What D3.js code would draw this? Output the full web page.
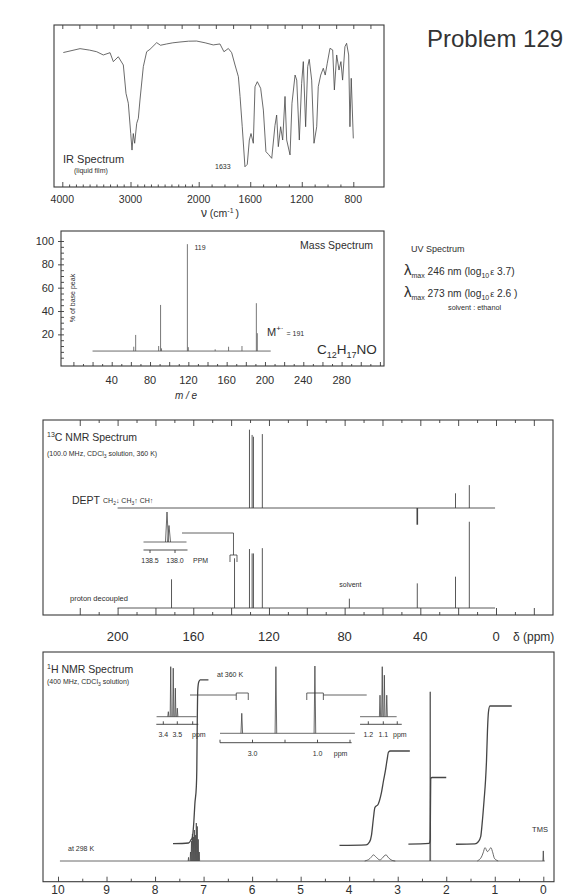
<!DOCTYPE html>
<html><head><meta charset="utf-8">
<script src="https://cdn.jsdelivr.net/npm/d3@7/dist/d3.min.js"></script>
<style>
html,body{margin:0;padding:0;background:#fff;}
svg{display:block;}
text{font-family:"Liberation Sans",Arial,Helvetica,sans-serif;fill:#2e2e2e;}
</style></head><body>
<svg id="chart" width="577" height="896"></svg>
<script>
// ================= DATA =================
// IR spectrum: [wavenumber cm-1, % transmittance]
const irTickLabels = [4000, 3000, 2000, 1600, 1200, 800];
const irTopTicks = [4000,3750,3500,3250,3000,2750,2500,2250,2000,1867,1733,1600,1467,1333,1200,1067,933,800,667];
const irTrace = [
 [3985,83],[3740,85.4],[3600,84.5],[3496,83.5],[3399,81.5],[3300,82.9],[3252,77.4],[3179,80.4],[3105,75.3],
 [3066,57.8],[3032,51.7],[2997,33.1],[2978,22.8],[2959,33],[2939,27],[2909,39.3],[2885,42.4],[2861,53.7],
 [2812,74.3],[2763,83.5],[2714,85],[2616,89.1],[2560,87.5],[2470,88.3],[2380,89],[2274,89.5],[2150,90],
 [2030,90.1],[1950,89],[1887,87.7],[1835,88.3],[1804,83.5],[1770,85.5],[1744,82.9],[1718,75.3],[1692,68.1],
 [1679,55.9],[1662,37.2],[1641,12.5],[1623,14],[1607,29],[1594,33],[1576,27],[1563,61.9],[1545,65],
 [1519,60.9],[1498,47.5],[1478,21.8],[1457,20],[1433,17.7],[1408,38],[1395,44.4],[1382,24.9],[1364,37.2],
 [1348,29],[1330,55.9],[1317,29],[1291,19.8],[1276,51.7],[1252,69.1],[1239,66],[1219,29],[1201,64],
 [1188,77.4],[1170,37.2],[1154,74.3],[1142,78.8],[1123,66],[1105,27],[1084,37.2],[1072,61.9],[1053,69.1],
 [1033,73.3],[1018,69.1],[1002,76.4],[981,85.6],[960,84.6],[947,59.9],[929,81.5],[911,72.2],[896,77.4],
 [883,66],[865,86.6],[852,88.7],[836,81.5],[826,37.2],[816,67.1],[800,30]
];

// Mass spectrum
const massTickLabels = [40, 80, 120, 160, 200, 240, 280];
const massYTickLabels = [20, 40, 60, 80, 100];
const massMz        = [63, 65, 89, 91, 92, 119, 120, 148, 162, 176, 191, 192];
const massIntensity = [9.4, 19.5, 10, 45.2, 8, 97.3, 9, 7.2, 9.4, 10, 46.7, 21];
const massBaselineRange = [20, 206];
const massBaselineLevel = 5.7;

// UV
const uvLambdaMax = [246, 273];
const uvLogEps = ["3.7", "2.6 "];

// 13C NMR
const c13TickLabels = [200, 160, 120, 80, 40, 0];
const c13Ppm    = [171.5, 138.2, 130.3, 128.9, 128.2, 123.5, 77.5, 41.6, 21.4, 14.1];
const c13Height = [32.6, 56.5, 67, 62, 62, 68, 10.6, 28, 35.6, 98];
const deptPpm    = [130.3, 128.9, 128.2, 123.5, 41.6, 21.4, 14.1];
const deptHeight = [89, 83, 81, 84, -19, 16.7, 26];
const c13InsetTickLabels = [138.5, 138.0];
const c13InsetPpm    = [138.16, 138.12];
const c13InsetHeight = [100, 55];
const c13Bracket = [140.6, 136.9];

// 1H NMR (298 K)
const h1TickLabels = [10, 9, 8, 7, 6, 5, 4, 3, 2, 1, 0];
const h1LinePpm    = [7.31, 7.27, 7.25, 7.23, 7.21, 7.19, 7.17, 7.15, 7.13, 7.11, 7.09, 2.33, 0.0];
const h1LineHeight = [2, 5, 11, 15, 13.4, 17.2, 14.4, 21.1, 19.2, 12, 5, 94, 5.6];
const h1BumpCH2 = [[3.68,0],[3.6,0.8],[3.55,2],[3.5,3.4],[3.44,2],[3.37,0.6],[3.32,1.5],[3.28,2.8],[3.24,3.4],[3.19,1.8],[3.12,0.4],[3.05,0]];
const h1BumpCH3 = [[1.36,0],[1.29,1.5],[1.24,4.5],[1.2,7.4],[1.15,5.2],[1.11,6.4],[1.08,7.4],[1.04,4.5],[1.0,1.2],[0.93,0]];
const h1IntAr  = [[7.63,9.6],[7.31,10],[7.26,11.7],[7.23,13.3],[7.2,22.2],[7.18,31.7],[7.15,41.1],[7.14,50.6],[7.13,78.3],[7.12,95],[7.1,99.4],[7.07,100.6],[6.9,100.6]];
const h1IntCH2 = [[4.2,8.7],[3.65,9],[3.58,10.6],[3.54,14.4],[3.5,23.9],[3.47,29.7],[3.4,31.7],[3.34,37.4],[3.29,45],[3.25,50.8],[3.22,56],[3.19,60.5],[3.15,61.1],[2.75,61.1]];
const h1IntMe  = [[2.78,9.4],[2.35,9.8],[2.33,12],[2.32,46],[2.29,46.4],[2.0,46.4]];
const h1IntEt  = [[1.8,9.3],[1.41,9.5],[1.34,10.7],[1.29,13.5],[1.26,20.9],[1.22,33.9],[1.19,45],[1.17,56],[1.15,72.8],[1.13,82.8],[1.1,86.1],[0.65,86.1]];
// insets (360 K expansions)
const ins1TickLabels = ["3.4", "3.5"];
const ins1Ppm = [3.436, 3.453, 3.471, 3.486, 3.5];
const ins1Height = [10, 100, 97, 57, 17];
const ins2TickLabels = ["3.0", "1.0"];
const ins2Ppm = [3.33, 2.28, 1.08];
const ins2Height = [30, 100, 101];
const ins2Brackets = [[3.5, 3.13], [1.33, 0.82]];
const ins3TickLabels = ["1.2", "1.1"];
const ins3Ppm = [1.122, 1.107, 1.093, 1.077];
const ins3Height = [43, 100, 83, 43];

// ================= DRAWING =================
const svg = d3.select("#chart");
const g = svg.append("g");
const FRAME = "#3a3a3a", TRACE = "#454545";

function ln(x1, y1, x2, y2, w, c) {
  return g.append("line").attr("x1", x1).attr("y1", y1).attr("x2", x2).attr("y2", y2)
    .attr("stroke", c || TRACE).attr("stroke-width", w || 0.8);
}
function txt(x, y, s, size, anchor) {
  return g.append("text").attr("x", x).attr("y", y).attr("font-size", size)
    .attr("text-anchor", anchor || "start").text(s);
}
function rich(x, y, parts, size, anchor) {
  const t = g.append("text").attr("x", x).attr("y", y).attr("font-size", size)
    .attr("text-anchor", anchor || "start");
  let shift = 0;
  parts.forEach(p => {
    const s = p[0], kind = p[1] || "", fs = p[2] || (kind ? size * 0.68 : size), dx = p[3] || 0;
    const target = kind === "sub" ? size * 0.32 : kind === "sup" ? -size * 0.42 : 0;
    t.append("tspan").attr("dy", target - shift).attr("dx", dx).attr("font-size", fs).text(s);
    shift = target;
  });
  return t;
}
function frame(x, y, w, h) {
  g.append("rect").attr("x", x).attr("y", y).attr("width", w).attr("height", h)
    .attr("fill", "none").attr("stroke", FRAME).attr("stroke-width", 1.1);
}
function ticks(axisFn, scale, values, size, ty) {
  const a = g.append("g").attr("transform", `translate(0,${ty})`)
    .call(axisFn(scale).tickValues(values).tickSize(size).tickFormat(""));
  a.select(".domain").remove();
  a.selectAll("line").attr("stroke", FRAME).attr("stroke-width", 0.9);
  return a;
}
function vticks(axisFn, scale, values, size, tx) {
  const a = g.append("g").attr("transform", `translate(${tx},0)`)
    .call(axisFn(scale).tickValues(values).tickSize(size).tickFormat(""));
  a.select(".domain").remove();
  a.selectAll("line").attr("stroke", FRAME).attr("stroke-width", 0.9);
  return a;
}
function spikes(ppm, h, xs, ys, hw) {
  const p = d3.path();
  ppm.forEach((v, i) => {
    p.moveTo(xs(v + hw), ys(0));
    p.lineTo(xs(v), ys(h[i]));
    p.lineTo(xs(v - hw), ys(0));
  });
  g.append("path").attr("d", p.toString()).attr("fill", "none")
    .attr("stroke", TRACE).attr("stroke-width", 0.8);
}
function curve(points, xs, ys, w, cv) {
  g.append("path").datum(points)
    .attr("d", d3.line().x(d => xs(d[0])).y(d => ys(d[1])).curve(cv || d3.curveLinear))
    .attr("fill", "none").attr("stroke", TRACE).attr("stroke-width", w || 0.8);
}

// ---------- Title ----------
txt(427, 47, "Problem 129", 24).style("fill", "#333");

// ---------- IR ----------
const xIR = d3.scaleLinear().domain([4000, 2000, 800]).range([62.3, 198.7, 353.3]);
const yIR = d3.scaleLinear().domain([0, 100]).range([187, 25]);
frame(54, 25, 330, 162);
ticks(d3.axisBottom, xIR, irTickLabels, -5, 187);
ticks(d3.axisBottom, xIR, d3.range(3900, 700, -100).filter(v => !irTickLabels.includes(v)), -2.5, 187);
ticks(d3.axisTop, xIR, irTopTicks, -4, 25);
irTickLabels.forEach(v => txt(xIR(v), 203, String(v), 10.5, "middle"));
rich(220, 217, [["ν", "", 12], ["  (cm", "", 10.5], ["-1", "sup", 7], [")", "", 10.5, 2]], 10.5, "middle");
curve(irTrace, xIR, yIR, 0.8);
txt(63, 163, "IR Spectrum", 11);
txt(74, 173, "(liquid film)", 7);
txt(215, 169, "1633", 7);

// ---------- Mass ----------
const xM = d3.scaleLinear().domain([0, 280]).range([73.4, 341.6]);
const yM = d3.scaleLinear().domain([0, 100]).range([357.7, 241]);
frame(61, 231, 323, 135);
ticks(d3.axisBottom, xM, d3.range(0, 330, 20), -4, 366);
ticks(d3.axisBottom, xM, d3.range(10, 330, 20), -2, 366);
vticks(d3.axisLeft, yM, massYTickLabels, 3, 61);
vticks(d3.axisLeft, yM, d3.range(0, 101, 5), -3, 61);
massTickLabels.forEach(v => txt(xM(v), 384, String(v), 11, "middle"));
massYTickLabels.forEach(v => txt(54, yM(v) + 4, String(v), 11, "end"));
g.append("text").attr("transform", `translate(75,298) rotate(-90)`).attr("font-size", 7)
  .attr("text-anchor", "middle").text("% of base peak");
txt(186, 399, "m / e", 10, "middle").style("font-style", "italic");
ln(xM(massBaselineRange[0]), yM(massBaselineLevel), xM(massBaselineRange[1]), yM(massBaselineLevel), 0.8);
massMz.forEach((m, i) => ln(xM(m), yM(massBaselineLevel), xM(m), yM(massIntensity[i]), 0.8, "#555"));
txt(xM(119) + 7, 250, "119", 7);
txt(373, 249, "Mass Spectrum", 10.5, "end");
rich(267, 336, [["M", "", 11], ["+·", "sup", 8], [" = 191", "", 7, 1]], 11);
rich(317, 354, [["C", "", 13.5], ["12", "sub", 9], ["H", "", 13.5], ["17", "sub", 9], ["NO", "", 13.5]], 13.5);

// ---------- UV ----------
txt(411, 252, "UV Spectrum", 9);
uvLambdaMax.forEach((lam, i) => {
  const y = 275 + i * 22;
  rich(404, y, [["λ", "", 15], ["max", "sub", 7], [" " + lam + " nm  (log", "", 10.2], ["10", "sub", 7], ["ε", "", 9, 1], ["  " + uvLogEps[i] + ")", "", 10.2]], 10.2);
});
txt(448, 310, "solvent :  ethanol", 7.3);

// ---------- 13C NMR ----------
const xC = d3.scaleLinear().domain([200, 0]).range([117.6, 496]);
const yC = d3.scaleLinear().domain([0, 100]).range([608, 520]);
const yD = d3.scaleLinear().domain([0, 100]).range([508, 420]);
frame(43, 420, 510, 195);
ticks(d3.axisBottom, xC, d3.range(220, -21, -20), -7, 615);
ticks(d3.axisBottom, xC, d3.range(210, -11, -20), -3, 615);
ticks(d3.axisTop, xC, d3.range(220, -21, -20), -6, 420);
ticks(d3.axisTop, xC, d3.range(210, -11, -20), -3, 420);
c13TickLabels.forEach(v => txt(xC(v), 641, String(v), 13, "middle"));
txt(513, 641, "δ (ppm)", 12);
rich(47, 441, [["13", "sup", 7], ["C NMR Spectrum", "", 10.5]], 10.5);
rich(47, 456, [["(100.0 MHz, CDCl", "", 7], ["3", "sub", 5], [" solution, 360 K)", "", 7]], 7);
txt(72, 504, "DEPT", 10.5);
rich(103, 503, [["CH", "", 7], ["2", "sub", 5], ["↓", "", 7], ["  CH", "", 7], ["3", "sub", 5], ["↑", "", 7], ["  CH", "", 7], ["↑", "", 7]], 7);
// DEPT trace
ln(xC(200), yD(0), xC(0.5), yD(0), 0.9);
deptPpm.forEach((p, i) => ln(xC(p), yD(0), xC(p), yD(deptHeight[i]), deptHeight[i] < 0 ? 1.6 : 0.9));
// proton decoupled trace
ln(xC(200), yC(0), xC(0.5), yC(0), 0.9);
c13Ppm.forEach((p, i) => ln(xC(p), yC(0), xC(p), yC(c13Height[i]), 0.9));
txt(70, 601, "proton decoupled", 7.5);
txt(xC(77.5) + 1, 587, "solvent", 7, "middle");
// inset expansion 138 ppm
const xCI = d3.scaleLinear().domain([138.5, 138.0]).range([150, 175]);
const yCI = d3.scaleLinear().domain([0, 100]).range([542, 512]);
ln(xCI(138.63), yCI(0), xCI(137.77), yCI(0), 0.8);
spikes(c13InsetPpm, c13InsetHeight, xCI, yCI, 0.03);
ln(xCI(138.63), 550, xCI(137.75), 550, 0.9, FRAME);
c13InsetTickLabels.forEach(v => { ln(xCI(v), 550, xCI(v), 553, 0.9, FRAME); txt(xCI(v), 563, v.toFixed(1), 7, "middle"); });
txt(193, 563, "PPM", 7);
// bracket and connector
const bMid = xC((c13Bracket[0] + c13Bracket[1]) / 2);
ln(182, 533, bMid, 533, 0.8, FRAME);
ln(bMid, 533, bMid, 555, 0.8, FRAME);
g.append("path").attr("d", `M${xC(c13Bracket[0])},562V555H${xC(c13Bracket[1])}V562`)
  .attr("fill", "none").attr("stroke", FRAME).attr("stroke-width", 0.8);

// ---------- 1H NMR ----------
const xH = d3.scaleLinear().domain([10, 0]).range([58, 543.3]);
const yH = d3.scaleLinear().domain([0, 100]).range([861, 681]);
frame(43, 652, 511, 229.7);
ticks(d3.axisBottom, xH, d3.range(10, -0.01, -1), -5, 881.7);
ticks(d3.axisBottom, xH, d3.range(9.5, 0, -1), -3, 881.7);
h1TickLabels.forEach(v => txt(xH(v), 894, String(v), 12, "middle"));
rich(47, 673, [["1", "sup", 7], ["H  NMR Spectrum", "", 10.5]], 10.5);
rich(47, 684, [["(400 MHz, CDCl", "", 7], ["3", "sub", 5], [" solution)", "", 7]], 7);
txt(68, 851, "at 298 K", 7);
txt(540, 832, "TMS", 7.5, "middle");
// spectrum
ln(xH(9.96), yH(0), xH(-0.03), yH(0), 0.8);
spikes(h1LinePpm, h1LineHeight, xH, yH, 0.008);
curve(h1BumpCH2, xH, yH, 0.8, d3.curveCatmullRom);
curve(h1BumpCH3, xH, yH, 0.8, d3.curveCatmullRom);
// integrals
[h1IntAr, h1IntCH2, h1IntMe, h1IntEt].forEach(d => curve(d, xH, yH, 1.3, d3.curveMonotoneX));

// inset 1 (3.4-3.5 ppm)
const xI1 = d3.scaleLinear().domain([3.4, 3.5]).range([163.3, 177.3]);
const yI1 = d3.scaleLinear().domain([0, 100]).range([716.7, 666.7]);
ln(xI1(3.352), yI1(0), xI1(3.638), yI1(0), 0.8);
spikes(ins1Ppm, ins1Height, xI1, yI1, 0.004);
ln(xI1(3.35), 724.3, xI1(3.65), 724.3, 0.9, FRAME);
[3.4, 3.5, 3.61].forEach(v => ln(xI1(v), 724.3, xI1(v), 721.3, 0.9, FRAME));
ins1TickLabels.forEach(s => txt(xI1(+s), 737, s, 7, "middle"));
txt(192, 737, "ppm", 7);

// inset 2 (360 K)
const xI2 = d3.scaleLinear().domain([4, 0]).range([220, 350]);
const yI2 = d3.scaleLinear().domain([0, 100]).range([733.3, 666.7]);
txt(217, 677, "at 360 K", 7);
ln(xI2(4), yI2(0), xI2(-0.15), yI2(0), 0.8);
spikes(ins2Ppm, ins2Height, xI2, yI2, 0.025);
ln(xI2(4), 742.7, xI2(-0.05), 742.7, 0.9, FRAME);
[4, 3, 2, 1, 0].forEach(v => ln(xI2(v), 742.7, xI2(v), 739.7, 0.9, FRAME));
ins2TickLabels.forEach(s => txt(xI2(+s), 756, s, 7, "middle"));
txt(xI2(0.5), 756, "ppm", 7);
ins2Brackets.forEach(b => g.append("path").attr("d", `M${xI2(b[0])},700V693H${xI2(b[1])}V700`)
  .attr("fill", "none").attr("stroke", FRAME).attr("stroke-width", 0.8));
ln(190, 695, xI2(ins2Brackets[0][0]), 695, 0.8, FRAME);
ln(xI2(ins2Brackets[1][1]), 695, 366.7, 695, 0.8, FRAME);

// inset 3 (1.1-1.2 ppm)
const xI3 = d3.scaleLinear().domain([1.2, 1.1]).range([368.3, 383.3]);
const yI3 = d3.scaleLinear().domain([0, 100]).range([716.7, 666.7]);
ln(xI3(1.255), yI3(0), xI3(1.011), yI3(0), 0.8);
spikes(ins3Ppm, ins3Height, xI3, yI3, 0.004);
ln(xI3(1.255), 724.3, xI3(0.977), 724.3, 0.9, FRAME);
[1.2, 1.1, 1.007].forEach(v => ln(xI3(v), 724.3, xI3(v), 721.3, 0.9, FRAME));
ins3TickLabels.forEach(s => txt(xI3(+s), 737, s, 7, "middle"));
txt(393, 737, "ppm", 7);
</script>
</body></html>
